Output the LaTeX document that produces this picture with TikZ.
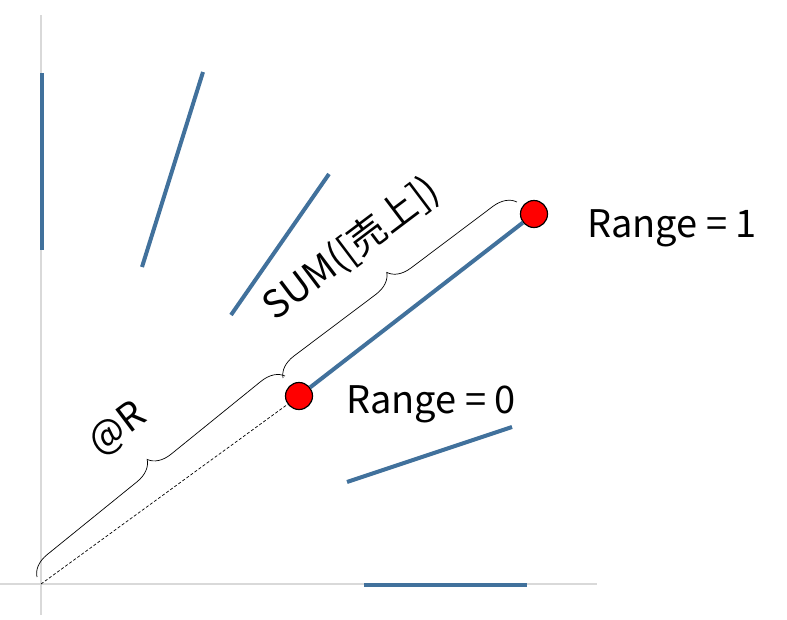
\documentclass[tikz,border=0pt]{standalone}
\usepackage{fontspec}
\setmainfont{Noto Sans CJK JP}
\usetikzlibrary{decorations.pathreplacing}
\definecolor{segblue}{RGB}{65,113,156}
\definecolor{axisgray}{RGB}{217,217,217}

\begin{document}
\begin{tikzpicture}[
			x=1pt, y=-1pt,
			axis/.style={draw=axisgray, line width=1.5pt},
			seg/.style={draw=segblue, line width=4pt},
			dot/.style={
					circle,
					draw=black,
					line width=1.2pt,
					fill=red,
					minimum size=27pt,
					inner sep=0pt
				},
			lbl/.style={font=\fontsize{38}{44}\selectfont, inner sep=0pt},
			bracebar/.style={decorate, decoration={brace, amplitude=22pt}, line width=0.7pt}
		]
		\useasboundingbox (0,0) rectangle (787,619);

		% axes
		\draw[axis] (41,15) -- (41,615);
		\draw[axis] (0,584) -- (597,584);
		\coordinate (o) at (41,584);

		% other segments
		\draw[seg] (42,73) -- (42,250);
		\draw[seg] (142,267) -- (203,72);
		\draw[seg] (231,315) -- (329,174);
		\draw[seg] (347,482) -- (512,427);
		\draw[seg] (364,585) -- (527,585);

		\node[dot] (r0) at (299,396) {};
		\node[dot] (r1) at (534,214) {};

		\draw[seg] (r0) -- (r1);
		\draw[dashed, dash pattern=on 3pt off 2pt, line width=0.7pt] (o) -- (r0);

		\node[lbl, anchor=base west] (lr0) at (346,413) {Range = 0};
		\node[lbl, anchor=base west] (lr1) at (587,237) {Range = 1};

		% braces
		\draw[bracebar] ([shift={(-4,-7)}]o) -- ([shift={(-14,-20)}]r0.center);
		\draw[bracebar] ([shift={(-16,-18)}]r0.center) -- ([shift={(-17,-12)}]r1.center);

		\node[lbl, rotate=37] (lat) at (118,430) {@R};
		\node[lbl, rotate=37] (lsum) at (351,249) {SUM([売上])};
	\end{tikzpicture}
\end{document}
